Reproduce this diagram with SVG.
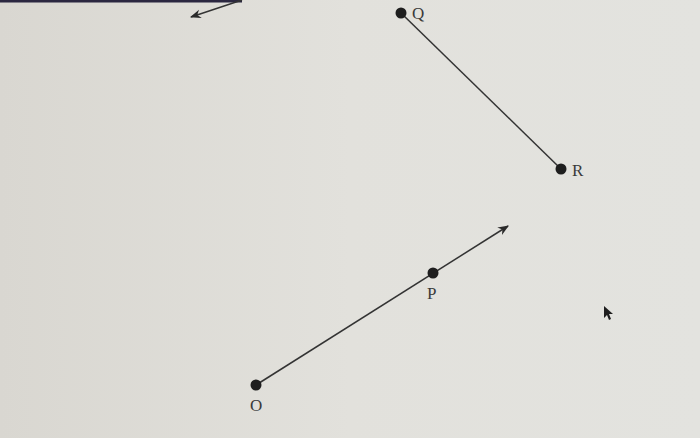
<svg xmlns="http://www.w3.org/2000/svg" width="700" height="438" viewBox="0 0 700 438">
<defs>
<linearGradient id="bg" x1="0" y1="0" x2="1" y2="0">
<stop offset="0" stop-color="#d9d7d1"/>
<stop offset="0.5" stop-color="#e2e1dc"/>
<stop offset="1" stop-color="#e3e3df"/>
</linearGradient>
<marker id="arr" viewBox="0 0 10 10" refX="9" refY="5" markerWidth="11" markerHeight="11" markerUnits="userSpaceOnUse" orient="auto">
<path d="M0,1 L10,5 L0,9 L3,5 Z" fill="#2a2a2a"/>
</marker>
<style>
.ln{stroke:#333;stroke-width:1.5;fill:none}
.dot{fill:#1e1e1e}
.lbl{font-family:"Liberation Serif",serif;font-size:17px;fill:#3a3a3a}
</style>
</defs>
<rect width="700" height="438" fill="url(#bg)"/>
<rect x="0" y="0" width="242" height="2.5" fill="#2b2740"/>
<g id="connectors">
<line class="ln" x1="242" y1="0" x2="191" y2="17" marker-end="url(#arr)"/>
<line class="ln" x1="401" y1="13" x2="561" y2="169"/>
<line class="ln" x1="256" y1="385" x2="508" y2="226" marker-end="url(#arr)"/>
</g>
<g id="Q"><circle class="dot" cx="401" cy="13" r="5.5"/><text class="lbl" x="412" y="19">Q</text></g>
<g id="R"><circle class="dot" cx="561" cy="169" r="5.5"/><text class="lbl" x="572" y="176">R</text></g>
<g id="P"><circle class="dot" cx="433" cy="273" r="5.5"/><text class="lbl" x="427" y="299">P</text></g>
<g id="O"><circle class="dot" cx="256" cy="385" r="5.5"/><text class="lbl" x="250" y="411">O</text></g>
<g id="cursor"><path d="M604,306 L604,318 L607,315 L609,320 L611,319 L609,314 L613,314 Z" fill="#1e1e1e"/></g>
</svg>
